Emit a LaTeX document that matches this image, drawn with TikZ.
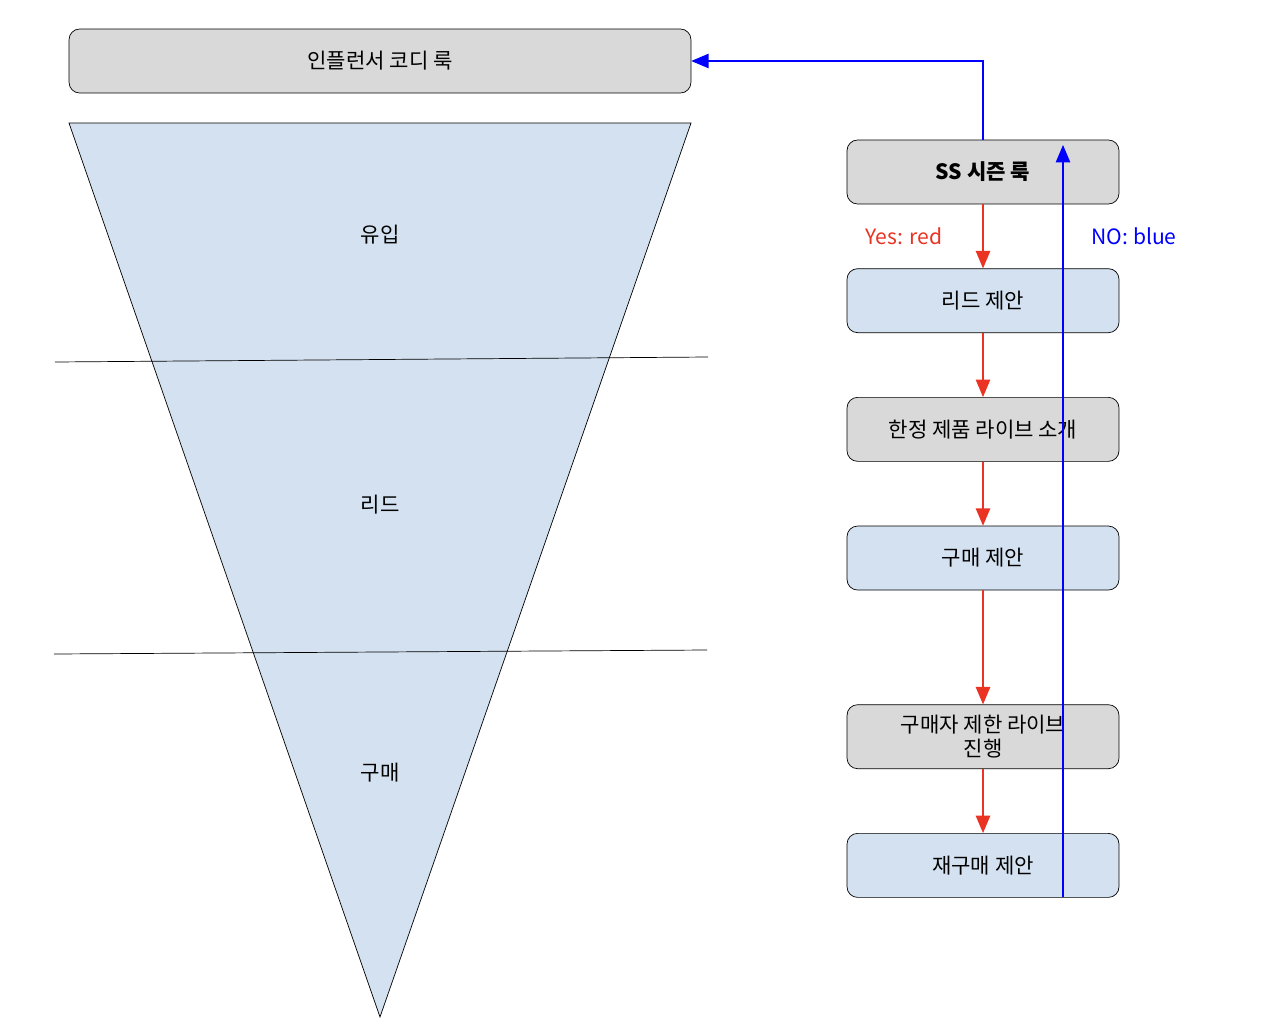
\documentclass[tikz,border=0pt]{standalone}
\usepackage{fontspec}
\setmainfont{Noto Sans CJK KR}
\usetikzlibrary{arrows,positioning}
\definecolor{boxgray}{HTML}{D9D9D9}
\definecolor{boxblue}{HTML}{D3E1F0}
\definecolor{arrred}{HTML}{EA3323}
\begin{document}
\begin{tikzpicture}[x=0.02cm,y=-0.02cm,>=triangle 45,node distance=1.28cm,
                    font=\fontsize{12}{14}\selectfont]
  \tikzstyle{every box}=[draw=black,rounded corners=6pt,minimum width=5.44cm,
                         minimum height=1.28cm,align=center,inner sep=1pt]
  \tikzstyle{graybox}=[every box,fill=boxgray]
  \tikzstyle{bluebox}=[every box,fill=boxblue]
  \tikzstyle{yes}=[->,arrred,line width=1.3pt]
  \useasboundingbox (0,0) rectangle (1280,1024);

  \node[graybox,minimum width=12.44cm] (look) at (380,61) {인플런서 코디 룩};
  \filldraw[fill=boxblue,draw=black] (69,123) -- (691,123) -- (380,1017) -- cycle;
  \draw (55,362) -- (708,357);
  \draw (54,654) -- (707,650);
  \node (inflow) at (380,235) {유입};
  \node (lead)   at (380,505) {리드};
  \node (buy)    at (380,773) {구매};

  \node[graybox,font=\fontsize{12}{14}\selectfont\bfseries] (ss) at (983,172) {SS 시즌 룩};
  \node[bluebox]  (leadoffer) [below=of ss]        {리드 제안};
  \node[graybox]  (live)      [below=of leadoffer] {한정 제품 라이브 소개};
  \node[bluebox]  (buyoffer)  [below=of live]      {구매 제안};
  \node[graybox]  (buyerlive) [below=2.28cm of buyoffer] {구매자 제한 라이브\\진행};
  \node[bluebox]  (rebuy)     [below=of buyerlive] {재구매 제안};

  \path (ss) edge[yes] (leadoffer)
        (leadoffer) edge[yes] (live)
        (live) edge[yes] (buyoffer)
        (buyoffer) edge[yes] (buyerlive)
        (buyerlive) edge[yes] (rebuy);

  \coordinate (nobot) at (1063,897);
  \coordinate (notop) at (1063,145);
  \draw[->,blue,line width=1.3pt] (nobot) -- (notop);
  \draw[->,blue,line width=1.3pt] (ss.north) |- (look.east);

  \node[text=arrred] (yeslbl) at (904,236) {Yes: red};
  \node[text=blue]   (nolbl)  at (1134,236) {NO: blue};
\end{tikzpicture}
\end{document}
